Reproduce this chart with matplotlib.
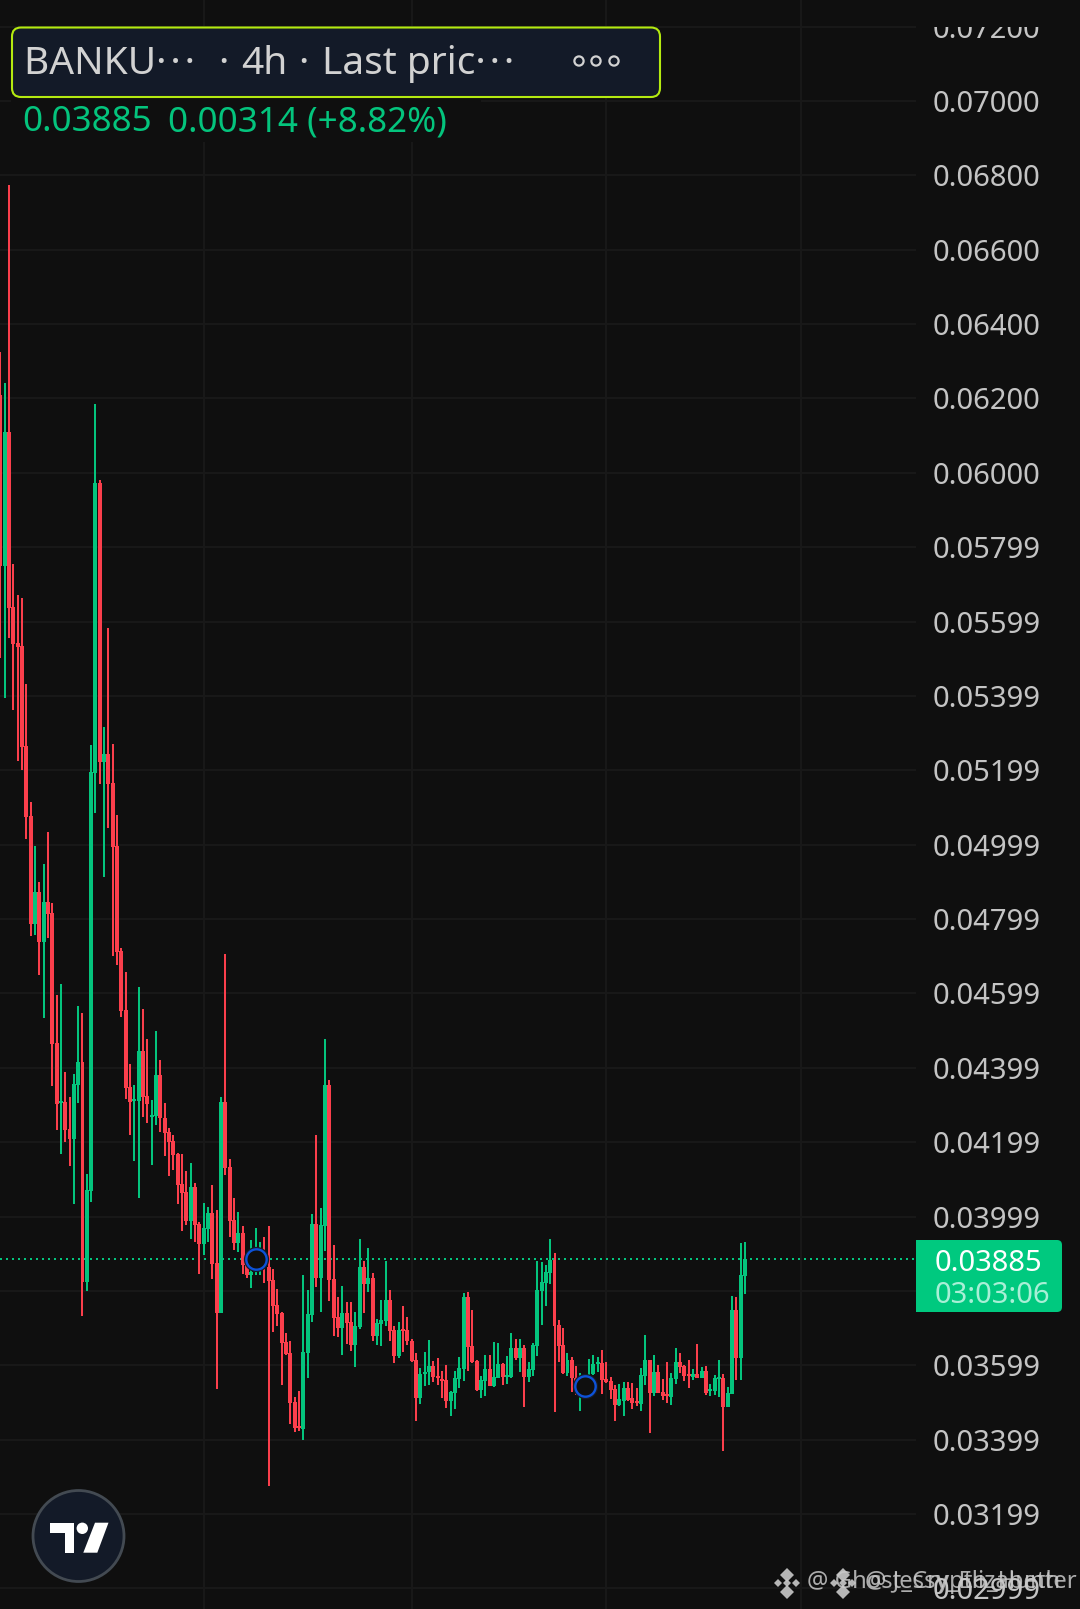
import numpy as np
import matplotlib
matplotlib.use("Agg")
import matplotlib.pyplot as plt
from matplotlib.patches import Circle, FancyBboxPatch, Polygon, Rectangle

plt.rcParams["font.family"] = ["Noto Sans", "DejaVu Sans"]

BG = "#0f0f0f"
GRID = "#181818"
UP = "#04c47d"
DOWN = "#fb3f4c"
TICK_COLOR = "#c4c4c4"

# 4h candles (prices x 1e5)
opens = np.array([
    6209, 5749, 6110, 5639, 5542, 5534, 5265, 5077, 4786, 4872,
    4738, 4845, 4816, 4466, 4305, 4307, 4235, 4208, 4353, 4415,
    3823, 4068, 5192, 5973, 5222, 5243, 5165, 4996, 4714, 4555,
    4348, 4310, 4310, 4444, 4323, 4267, 4270, 4380, 4264, 4227,
    4202, 4167, 4087, 4065, 3987, 4079, 3979, 3925, 3966, 4009,
    3874, 3740, 4307, 4132, 3990, 3928, 3955, 3874, 3842, 3877,
    3855, 3896, 3864, 3829, 3761, 3740, 3662, 3632, 3500, 3436,
    3428, 3632, 3734, 3979, 3834, 3974, 4353, 3832, 3729, 3700,
    3740, 3716, 3654, 3702, 3864, 3818, 3834, 3678, 3710, 3718,
    3775, 3694, 3624, 3697, 3694, 3664, 3613, 3511, 3575, 3581,
    3597, 3570, 3562, 3559, 3503, 3525, 3562, 3589, 3783, 3651,
    3611, 3533, 3557, 3589, 3543, 3565, 3603, 3567, 3567, 3644,
    3619, 3646, 3567, 3586, 3651, 3799, 3821, 3847, 3883, 3707,
    3654, 3579, 3613, 3565, 3522, 3538, 3559, 3576, 3603, 3606,
    3562, 3557, 3536, 3492, 3503, 3538, 3511, 3503, 3495, 3570,
    3613, 3525, 3581, 3527, 3522, 3514, 3562, 3608, 3597, 3576,
    3567, 3576, 3565, 3584, 3530, 3530, 3562, 3565, 3487, 3522,
    3748, 3619, 3840]) / 1e5

highs = np.array([
    6325, 6242, 6774, 5755, 5671, 5663, 5432, 5114, 4996, 4899,
    4948, 5034, 4843, 4595, 4625, 4388, 4321, 4383, 4566, 4547,
    4114, 5268, 6185, 5981, 5316, 5582, 5271, 5079, 4722, 4657,
    4409, 4353, 4617, 4557, 4477, 4313, 4498, 4420, 4305, 4237,
    4219, 4170, 4167, 4122, 4143, 4089, 3984, 4036, 4025, 4084,
    4017, 4321, 4706, 4154, 4049, 4011, 3974, 3885, 3936, 3968,
    3931, 3944, 3974, 3858, 3805, 3742, 3686, 3664, 3514, 3530,
    3842, 3801, 4006, 4219, 4022, 4477, 4367, 3923, 3783, 3813,
    3770, 3770, 3742, 3939, 3880, 3915, 3847, 3724, 3775, 3880,
    3801, 3705, 3716, 3758, 3729, 3670, 3632, 3592, 3635, 3667,
    3611, 3619, 3584, 3600, 3530, 3584, 3621, 3793, 3796, 3748,
    3613, 3570, 3627, 3627, 3662, 3659, 3606, 3624, 3686, 3670,
    3670, 3654, 3608, 3659, 3880, 3877, 3869, 3939, 3902, 3721,
    3700, 3632, 3621, 3597, 3579, 3570, 3616, 3627, 3621, 3641,
    3608, 3567, 3546, 3549, 3554, 3554, 3551, 3538, 3592, 3680,
    3613, 3627, 3600, 3562, 3608, 3579, 3646, 3632, 3600, 3613,
    3589, 3657, 3594, 3597, 3549, 3573, 3613, 3576, 3541, 3786,
    3783, 3929, 3931]) / 1e5

lows = np.array([
    5502, 5394, 5556, 5362, 5225, 5200, 5015, 4754, 4757, 4649,
    4533, 4748, 4351, 4232, 4167, 4200, 4134, 4033, 4305, 3732,
    3799, 4038, 5085, 5163, 4912, 5044, 4700, 4676, 4536, 4315,
    4219, 4149, 4049, 4267, 4251, 4137, 4245, 4227, 4162, 4108,
    4124, 4033, 3960, 3976, 3939, 3931, 3844, 3896, 3931, 3831,
    3535, 3740, 4111, 3944, 3909, 3904, 3844, 3834, 3807, 3842,
    3842, 3821, 3274, 3689, 3705, 3546, 3627, 3441, 3420, 3422,
    3398, 3565, 3716, 3810, 3742, 3906, 3772, 3678, 3675, 3627,
    3656, 3637, 3594, 3697, 3740, 3796, 3664, 3654, 3651, 3705,
    3664, 3606, 3619, 3635, 3654, 3608, 3449, 3495, 3543, 3546,
    3554, 3546, 3511, 3484, 3463, 3481, 3538, 3557, 3584, 3606,
    3530, 3511, 3516, 3543, 3540, 3565, 3546, 3549, 3565, 3613,
    3581, 3487, 3554, 3570, 3624, 3707, 3758, 3818, 3474, 3608,
    3576, 3570, 3527, 3519, 3476, 3527, 3549, 3573, 3581, 3522,
    3551, 3508, 3449, 3490, 3463, 3503, 3481, 3490, 3476, 3546,
    3417, 3516, 3525, 3505, 3498, 3492, 3549, 3579, 3557, 3538,
    3559, 3565, 3565, 3519, 3516, 3519, 3514, 3368, 3487, 3522,
    3559, 3559, 3791]) / 1e5

closes = np.array([
    5749, 6110, 5636, 5539, 5531, 5262, 5074, 4786, 4872, 4738,
    4845, 4813, 4463, 4302, 4310, 4232, 4208, 4356, 4415, 3823,
    4071, 5195, 5973, 5222, 5243, 5163, 4993, 4711, 4552, 4345,
    4307, 4315, 4444, 4321, 4302, 4272, 4380, 4264, 4224, 4200,
    4165, 4084, 4062, 3987, 4079, 3976, 3925, 3968, 4009, 3871,
    3740, 4307, 4130, 3987, 3928, 3955, 3869, 3842, 3850, 3896,
    3888, 3864, 3826, 3758, 3737, 3659, 3630, 3498, 3430, 3430,
    3635, 3737, 3979, 3834, 3976, 4353, 3829, 3727, 3700, 3740,
    3713, 3654, 3705, 3864, 3818, 3834, 3678, 3713, 3721, 3775,
    3692, 3624, 3694, 3692, 3664, 3611, 3511, 3575, 3581, 3597,
    3567, 3565, 3557, 3503, 3527, 3565, 3592, 3783, 3648, 3608,
    3533, 3559, 3589, 3543, 3567, 3603, 3567, 3573, 3644, 3619,
    3646, 3567, 3589, 3654, 3801, 3823, 3850, 3883, 3705, 3651,
    3579, 3613, 3565, 3538, 3538, 3559, 3570, 3603, 3608, 3559,
    3554, 3533, 3492, 3508, 3538, 3505, 3498, 3498, 3573, 3613,
    3525, 3581, 3525, 3516, 3516, 3565, 3608, 3594, 3570, 3570,
    3576, 3565, 3584, 3525, 3536, 3565, 3567, 3487, 3525, 3748,
    3619, 3842, 3885]) / 1e5

tick_labels = ["0.07200", "0.07000", "0.06800", "0.06600", "0.06400", "0.06200",
               "0.06000", "0.05799", "0.05599", "0.05399", "0.05199", "0.04999",
               "0.04799", "0.04599", "0.04399", "0.04199", "0.03999", "0.03799",
               "0.03599", "0.03399", "0.03199", "0.02999"]
tick_values = [float(t) for t in tick_labels]
# 0.03799 sits behind the price badge, so it gets a grid line but no text
hidden_labels = ["0.03799"]

time_grid = [47, 95, 140, 185]  # candle index of the vertical grid lines
marker_index = [59, 135]
marker_price = [0.03886, 0.03544]
last_price = 0.03885

W, H = 1080, 1609
fig = plt.figure(figsize=(W / 100, H / 100), dpi=100, facecolor=BG)

# price area ends at x=916, the tick labels live right of it
ax = fig.add_axes([0, 0, 916 / W, 1])
ax.set_facecolor(BG)
ax.set_xlim(-0.05, 211.48)
ax.set_ylim(0.02943, 0.07272)
for s in ax.spines.values():
    s.set_visible(False)

ax.yaxis.tick_right()
ax.set_yticks(tick_values)
ax.set_yticklabels(["" if t in hidden_labels else t for t in tick_labels],
                   color=TICK_COLOR, fontsize=21)
ax.tick_params(axis="y", length=0, pad=12.2)
ax.set_xticks(time_grid)
ax.tick_params(axis="x", length=0, labelbottom=False)
ax.grid(True, color=GRID, linewidth=1.5)
ax.set_axisbelow(True)

ax.axhline(last_price, color=UP, linewidth=1.44, linestyle=(0, (1, 2)), zorder=1)

x = np.arange(len(opens))
colors = np.where(closes >= opens, UP, DOWN)
ax.vlines(x, lows, highs, colors=colors, linewidth=1.44, zorder=2, antialiased=False)
ax.bar(x, np.abs(closes - opens), bottom=np.minimum(opens, closes), width=0.92,
       color=colors, linewidth=0, zorder=3, antialiased=False)

# blue ring markers
ax.scatter(x[marker_index], marker_price, s=330, color="#161b26", linewidths=0, zorder=4)
ax.scatter(x[marker_index], marker_price, s=215, facecolor=BG, edgecolor="#0d52d8",
           linewidths=1.7, zorder=5)

# everything else is screen chrome, drawn in pixel coordinates
ui = fig.add_axes([0, 0, 1, 1], facecolor="none")
ui.set_xlim(0, W)
ui.set_ylim(H, 0)
ui.axis("off")

# legend box
ui.add_patch(Rectangle((11, 96), 470, 46, color=BG, linewidth=0))
ui.add_patch(FancyBboxPatch((12, 27.5), 648, 69.5, boxstyle="round,pad=0,rounding_size=9",
                            facecolor="#131a28", edgecolor="#b4ea10", linewidth=1.5))
dots = "·\u200a·\u200a·"
for tx, label in [(24, "BANKU" + dots), (218, "·"), (241, "4h"), (298, "·"),
                  (322, "Last pric" + dots)]:
    ui.text(tx, 64, label, color="#d2d2d2", fontsize=28, va="center", ha="left")
for cx in [579, 596, 614]:
    ui.add_patch(Circle((cx, 61), 4.6, facecolor="none", edgecolor="#d2d2d2", linewidth=1.6))
ui.text(22, 122, "0.03885", color=UP, fontsize=25.2, va="center", ha="left")
ui.text(168, 122, "0.00314 (+8.82%)", color=UP, fontsize=25.2, va="center", ha="left")

# the axis label at the very top is cut off
ui.add_patch(Rectangle((916, 0), 164, 27, color=BG, linewidth=0))

# price badge
ui.add_patch(FancyBboxPatch((916, 1240), 146, 72, boxstyle="round,pad=0,rounding_size=5",
                            facecolor="#00c97f", edgecolor="none"))
ui.add_patch(Rectangle((916, 1240), 10, 72, color="#00c97f", linewidth=0))
ui.text(935, 1263.5, "0.03885", color="white", fontsize=21, va="center", ha="left")
ui.text(935, 1295.5, "03:03:06", color="#a9efd6", fontsize=21, va="center", ha="left")

# TradingView badge
ui.add_patch(Circle((78.5, 1536), 45.5, facecolor="#131a28", edgecolor="#434a52", linewidth=2))
ui.add_patch(Polygon([(50, 1522.7), (74, 1522.7), (74, 1552.7), (64.7, 1552.7),
                      (64.7, 1533.3), (50, 1533.3)], color="white", linewidth=0))
ui.add_patch(Circle((82.3, 1528.3), 5.7, color="white", linewidth=0))
ui.add_patch(Polygon([(95, 1522.7), (108.5, 1522.7), (97.3, 1552.7), (83.3, 1552.7)],
                     color="white", linewidth=0))


def binance_mark(cx, cy):
    for dx, dy, size in [(0, -8.5, 7), (0, 8.5, 7), (-9, 0, 4), (9, 0, 4), (0, 0, 4)]:
        ui.plot(cx + dx, cy + dy, marker="D", markersize=size, color="#c9c9c9",
                markeredgewidth=0, alpha=0.9)


# two overlapping watermarks
binance_mark(787, 1583)
ui.text(807, 1582, "@ Ghost_Crypto_Hunter", color="#c9c9c9", fontsize=17.2, va="center", alpha=0.85)
binance_mark(843, 1583)
ui.text(865, 1582, "@ Jessy_Elizabeth", color="#c9c9c9", fontsize=17.2, va="center", alpha=0.85)

fig.savefig("out.png", dpi=100, facecolor=BG)
